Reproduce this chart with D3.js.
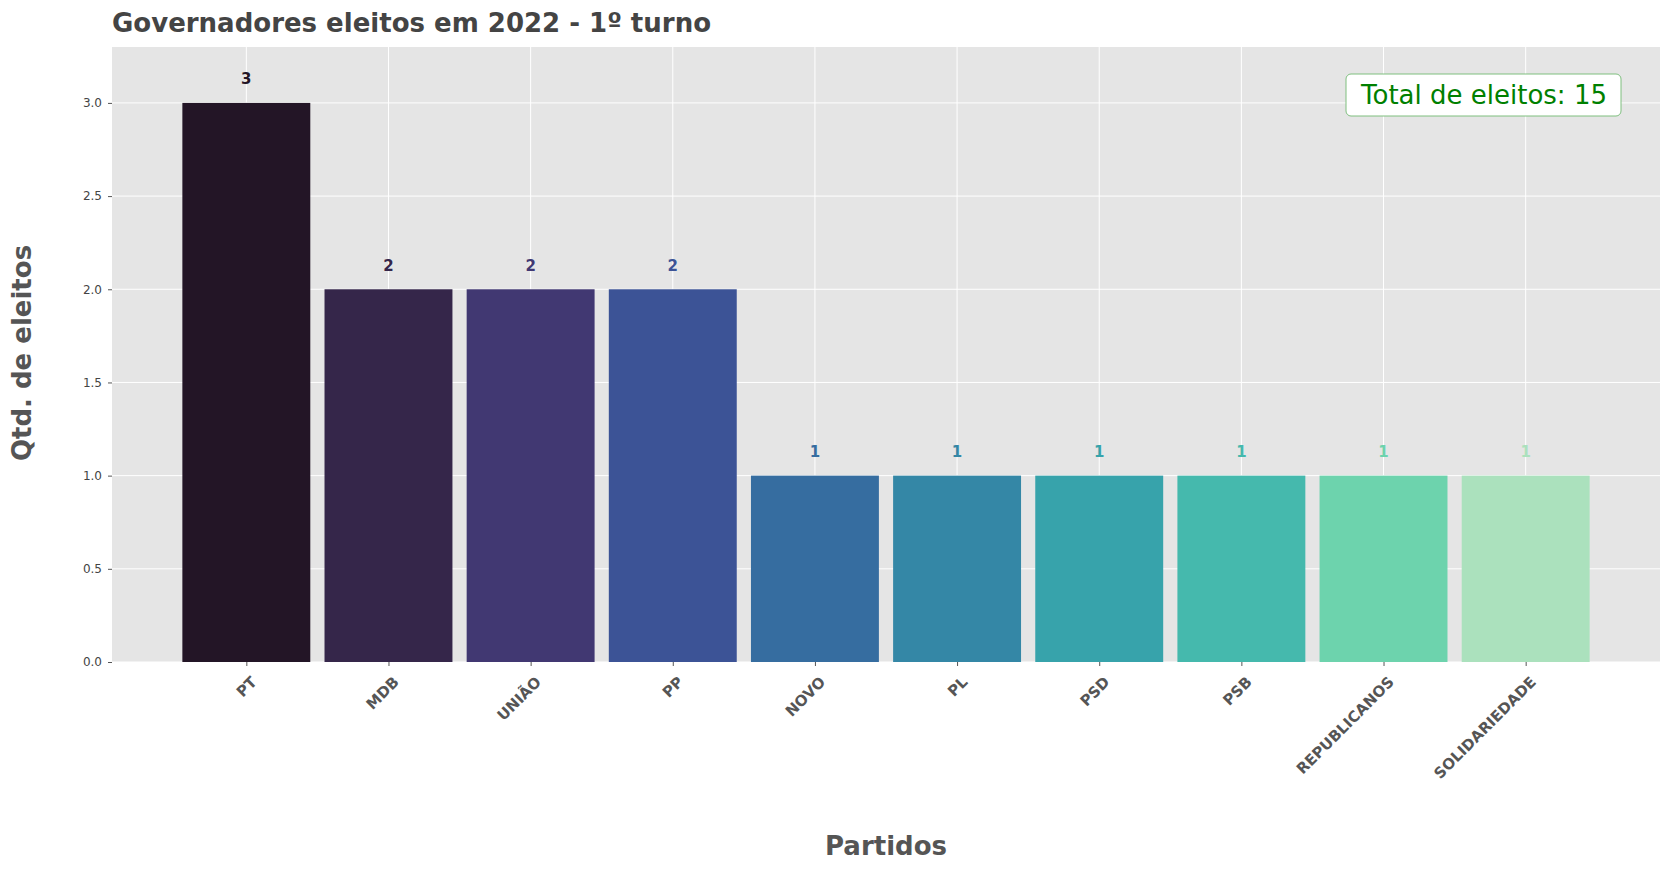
<!DOCTYPE html><html><head><meta charset="utf-8"><script src="https://cdn.jsdelivr.net/npm/d3@7"></script>
<style>body{margin:0;background:#fff}text{font-family:"DejaVu Sans",sans-serif}</style></head><body><svg id="c" width="1671" height="871"></svg><script>
const partidos=["PT","MDB","UNIÃO","PP","NOVO","PL","PSD","PSB","REPUBLICANOS","SOLIDARIEDADE"];
const eleitos=[3,2,2,2,1,1,1,1,1,1];
const cores=["#231526","#35264a","#413872","#3c5396","#366da0","#3487a6","#37a3ab","#45b9ad","#6dd3ad","#abe1bd"];
const yTicks=[0,0.5,1,1.5,2,2.5,3];
const total=eleitos.reduce((a,b)=>a+b,0);
const svg=d3.select("#c");
const L=112,R=1660,T=47,B=662;
const x=d3.scaleLinear().domain([-0.945,9.945]).range([L,R]);
const y=d3.scaleLinear().domain([0,3.3]).range([B,T]);
svg.append("rect").attr("x",L).attr("y",T).attr("width",R-L).attr("height",B-T).attr("fill","#e5e5e5");
const g=svg.append("g");
g.selectAll(".gy").data(yTicks).join("line").attr("x1",L).attr("x2",R).attr("y1",d=>y(d)).attr("y2",d=>y(d)).attr("stroke","#fff").attr("stroke-width",1);
g.selectAll(".gx").data(partidos).join("line").attr("y1",T).attr("y2",B).attr("x1",(d,i)=>x(i)).attr("x2",(d,i)=>x(i)).attr("stroke","#fff").attr("stroke-width",1);
const bw=x(0.9)-x(0);
svg.selectAll(".bar").data(eleitos).join("rect").attr("x",(d,i)=>x(i)-bw/2).attr("width",bw).attr("y",d=>y(d)).attr("height",d=>B-y(d)).attr("fill",(d,i)=>cores[i]);
svg.selectAll(".lbl").data(eleitos).join("text").attr("x",(d,i)=>x(i)).attr("y",d=>y(d+0.1)).attr("text-anchor","middle").attr("font-size",15).attr("font-weight","bold").attr("fill",(d,i)=>cores[i]).text(d=>d);
const ya=svg.append("g").attr("transform",`translate(${L},0)`).call(d3.axisLeft(y).tickValues(yTicks).tickFormat(d3.format(".1f")).tickSize(4).tickPadding(6));
ya.select(".domain").remove();ya.selectAll("line").attr("stroke","#555");ya.selectAll("text").attr("font-size",12).attr("fill","#444").style("font-family","DejaVu Sans");
const xa=svg.append("g").attr("transform",`translate(0,${B})`).call(d3.axisBottom(x).tickValues(d3.range(partidos.length)).tickFormat(i=>partidos[i]).tickSize(4));
xa.select(".domain").remove();xa.selectAll("line").attr("stroke","#555");
xa.selectAll("text").attr("font-size",15).attr("font-weight","bold").attr("fill","#555").style("font-family","DejaVu Sans").attr("text-anchor","end").attr("dy",0).attr("transform","translate(6,16) rotate(-45)");
svg.append("text").attr("x",L).attr("y",32).attr("font-size",26).attr("font-weight","bold").attr("fill","#444").text("Governadores eleitos em 2022 - 1º turno");
svg.append("text").attr("transform","translate(31,353) rotate(-90)").attr("text-anchor","middle").attr("font-size",26).attr("font-weight","bold").attr("fill","#555").text("Qtd. de eleitos");
svg.append("text").attr("x",886).attr("y",855).attr("text-anchor","middle").attr("font-size",26).attr("font-weight","bold").attr("fill","#555").text("Partidos");
svg.append("rect").attr("x",1346).attr("y",74).attr("width",275).attr("height",42).attr("rx",5).attr("fill","#fff").attr("stroke","#7fbf7f");
svg.append("text").attr("x",1484).attr("y",104).attr("text-anchor","middle").attr("font-size",26).attr("fill","green").text("Total de eleitos: "+total);
</script></body></html>
